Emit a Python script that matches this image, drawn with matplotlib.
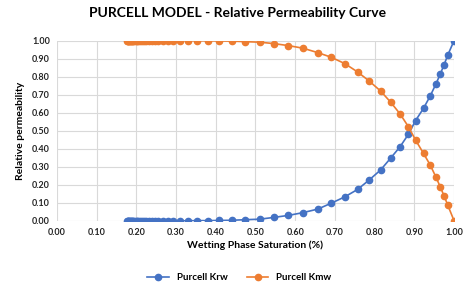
import matplotlib
matplotlib.use("Agg")
import matplotlib.pyplot as plt

# wetting phase saturation and relative permeabilities
sw = [0.177, 0.178, 0.179, 0.180, 0.181, 0.183, 0.184, 0.186, 0.188, 0.190,
      0.192, 0.195, 0.198, 0.201, 0.205, 0.209, 0.214, 0.219, 0.225, 0.232,
      0.240, 0.248, 0.255, 0.268, 0.280, 0.293, 0.310, 0.331, 0.353, 0.380,
      0.409, 0.441, 0.474, 0.511, 0.547, 0.583, 0.619, 0.657, 0.690, 0.725,
      0.757, 0.786, 0.815, 0.840, 0.864, 0.885, 0.903, 0.923, 0.940, 0.954,
      0.965, 0.975, 0.984, 1.000]
krw = [0.000, 0.000, 0.000, 0.000, 0.000, 0.000, 0.000, 0.000, 0.000, 0.000,
       0.000, 0.000, 0.000, 0.000, 0.000, 0.000, 0.000, 0.000, 0.000, 0.000,
       0.000, 0.000, 0.000, 0.000, 0.000, 0.000, 0.000, 0.000, 0.001, 0.001,
       0.002, 0.003, 0.006, 0.009, 0.019, 0.030, 0.045, 0.065, 0.097, 0.133,
       0.174, 0.226, 0.282, 0.347, 0.411, 0.480, 0.556, 0.624, 0.693, 0.758,
       0.813, 0.867, 0.919, 1.000]
krnw = [1.000, 1.000, 1.000, 1.000, 1.000, 1.000, 1.000, 1.000, 1.000, 1.000,
        1.000, 1.000, 1.000, 1.000, 1.000, 1.000, 1.000, 1.000, 1.000, 1.000,
        1.000, 1.000, 1.000, 1.000, 1.000, 1.000, 1.000, 1.000, 0.999, 0.999,
        0.998, 0.997, 0.994, 0.991, 0.983, 0.972, 0.958, 0.933, 0.908, 0.872,
        0.826, 0.776, 0.720, 0.659, 0.593, 0.522, 0.448, 0.374, 0.309, 0.244,
        0.189, 0.137, 0.087, 0.000]

ticks = [i / 10 for i in range(11)]

fig = plt.figure(figsize=(4.74, 2.94), dpi=100)
ax = fig.add_axes([0.120, 0.249, 0.838, 0.613])

ax.plot(sw, krw, "-o", color="#4472C4", lw=1.2, ms=4.5, label="Purcell Krw")
ax.plot(sw, krnw, "-o", color="#ED7D31", lw=1.2, ms=4.5, label="Purcell Kmw")

ax.set_xlim(0, 1)
ax.set_ylim(0, 1)
ax.set_xticks(ticks)
ax.set_yticks(ticks)
ax.set_xticklabels([f"{t:.2f}" for t in ticks])
ax.set_yticklabels([f"{t:.2f}" for t in ticks])
ax.grid(True, color="#D9D9D9", lw=0.8)
ax.set_axisbelow(True)
for s in ax.spines.values():
    s.set_visible(False)
ax.tick_params(length=0, labelsize=6.5, labelcolor="#262626", pad=5)
for lab in ax.get_xticklabels() + ax.get_yticklabels():
    lab.set_fontweight("bold")
    lab.set_family("Lato")

ax.set_xlabel("Wetting Phase Saturation (%)", fontsize=7.5, fontweight="bold",
              family="Lato", labelpad=3)
ax.set_ylabel("Relative permeability", fontsize=7.5, fontweight="bold",
              family="Lato", labelpad=5)
fig.suptitle("PURCELL MODEL - Relative Permeability Curve", x=0.502, y=0.975,
             fontsize=10, fontweight="bold", family="Lato")

fig.legend(loc="center", bbox_to_anchor=(0.505, 0.055), ncol=2, frameon=False,
           prop={"family": "Lato", "weight": "bold", "size": 7},
           handlelength=2.2, columnspacing=2.0)

fig.savefig("out.png", dpi=100)
